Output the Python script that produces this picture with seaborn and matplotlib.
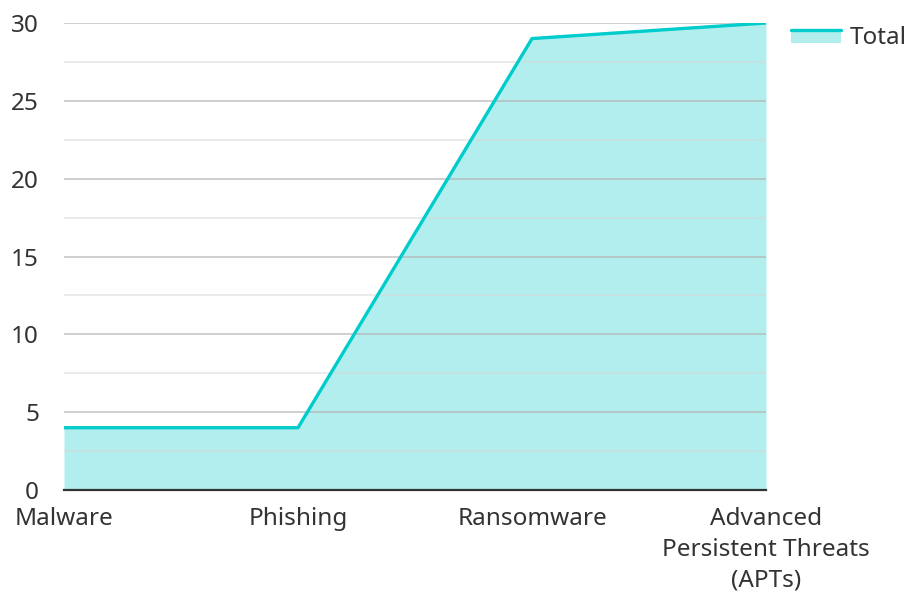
import matplotlib
matplotlib.use("Agg")
import matplotlib.pyplot as plt
import seaborn as sns
import pandas as pd
from matplotlib.lines import Line2D
from matplotlib.patches import Patch, Rectangle
from matplotlib.legend_handler import HandlerBase

categories = ["Malware", "Phishing", "Ransomware", "Advanced\nPersistent Threats\n(APTs)"]
totals = [4, 4, 29, 30]
series_name = "Total"

LINE = "#00cccc"
FILL = "#b2eeee"
TEXT = "#333333"
FS = 17.5

sns.set_theme(style="white")
plt.rcParams["font.family"] = ["Noto Sans", "DejaVu Sans"]

df = pd.DataFrame({"x": range(len(categories)), "Total": totals})

fig = plt.figure(figsize=(9.08, 5.97), dpi=100)
ax = fig.add_axes([64/908, 1 - 490/597, (766 - 64)/908, (490 - 23)/597])

ax.fill_between(df["x"], df["Total"], 0, color=FILL, lw=0, zorder=1)
sns.lineplot(data=df, x="x", y="Total", ax=ax, color=LINE, lw=2.4, zorder=4, legend=False)

ax.set_xlim(0, len(categories) - 1)
ax.set_ylim(0, 30)
ax.set_yticks([0, 5, 10, 15, 20, 25, 30])
ax.set_yticks([2.5, 7.5, 12.5, 17.5, 22.5, 27.5], minor=True)
ax.grid(True, which="major", axis="y", color="#b4b4b4", lw=1.2, alpha=0.75, zorder=2)
ax.grid(True, which="minor", axis="y", color="#d8d8d8", lw=1.2, alpha=0.6, zorder=2)
ax.grid(False, axis="x")
ax.set_axisbelow(False)
ax.set_xticks(range(len(categories)))
ax.set_xticklabels(categories, fontsize=FS, color=TEXT, linespacing=1.37)
ax.tick_params(axis="y", length=0, pad=18, labelsize=FS, labelcolor=TEXT)
ax.tick_params(axis="y", which="minor", length=0)
ax.tick_params(axis="x", length=0, pad=12.5)
ax.set_xlabel("")
ax.set_ylabel("")
for s in ["top", "right", "left"]:
    ax.spines[s].set_visible(False)
ax.spines["bottom"].set_color(TEXT)
ax.spines["bottom"].set_linewidth(1.6)
ax.spines["bottom"].set_zorder(5)


class AreaHandler(HandlerBase):
    def create_artists(self, legend, orig_handle, xdescent, ydescent, width, height, fontsize, trans):
        top = height * 0.85
        r = Rectangle((-xdescent, -ydescent), width, top, facecolor=FILL, edgecolor="none", transform=trans)
        l = Line2D([-xdescent, -xdescent + width], [-ydescent + top, -ydescent + top], color=LINE, lw=2.4, transform=trans)
        return [r, l]


handle = Patch(facecolor=FILL)
leg = fig.legend([handle], [series_name], handler_map={Patch: AreaHandler()},
                 loc="upper left", bbox_to_anchor=(769/908, 1 - 4/597), frameon=False,
                 fontsize=FS, handlelength=2.05, handleheight=0.6, handletextpad=0.37)
for t in leg.get_texts():
    t.set_color(TEXT)

fig.savefig("out.png", dpi=100)
